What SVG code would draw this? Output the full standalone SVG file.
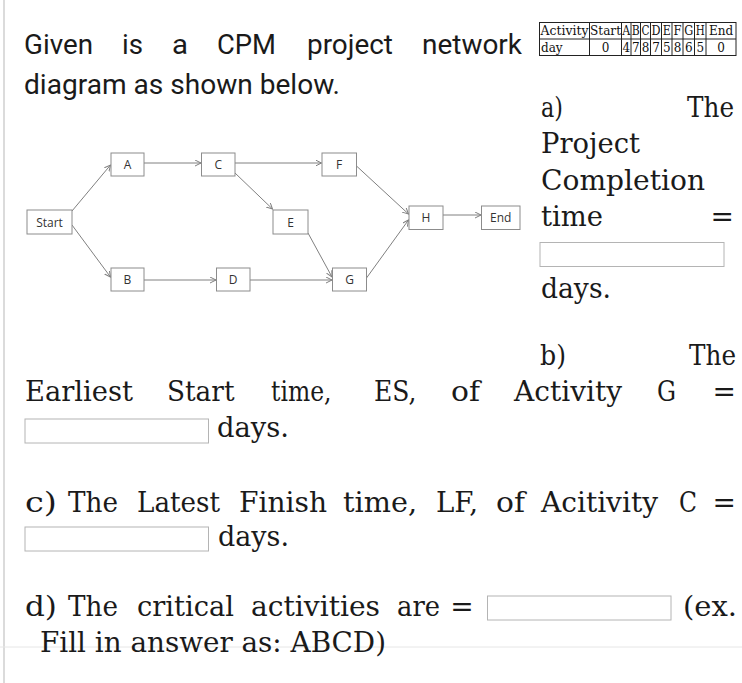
<svg xmlns="http://www.w3.org/2000/svg" width="742" height="683" viewBox="0 0 742 683">
<defs>
<style>
.sans{font-family:Roboto,"Liberation Sans",sans-serif;font-size:28px;fill:#1a1a1a}
.ser{font-family:"DejaVu Serif","Liberation Serif",serif;font-size:28px;fill:#1a1a1a}
.tb{font-family:"DejaVu Serif","Liberation Serif",serif;font-size:12px;fill:#111}
.cell{fill:none;stroke:#222;stroke-width:1}
.inp{fill:#fff;stroke:#b4b4b4;stroke-width:1}
.node rect{fill:#fff;stroke:#8c8c8c;stroke-width:1}
.node text{font-family:"Open Sans","DejaVu Sans",sans-serif;font-size:12px;fill:#333;text-anchor:middle}
.edge{stroke:#808080;stroke-width:1;fill:none;marker-end:url(#arr)}
</style>
<marker id="arr" markerWidth="8" markerHeight="8" refX="6" refY="3" orient="auto" markerUnits="userSpaceOnUse">
<path d="M0,0 L6,3 L0,6" fill="none" stroke="#808080" stroke-width="1"/>
</marker>
</defs>
<rect width="742" height="683" fill="#fff"/>
<line x1="4" y1="0" x2="4" y2="683" stroke="#cfcfcf" stroke-width="1.5"/>
<line x1="0" y1="647" x2="742" y2="647" stroke="#e6e6e6" stroke-width="1"/>

<g id="intro">
<text class="sans" x="24" y="54" textLength="69" lengthAdjust="spacingAndGlyphs">Given</text>
<text class="sans" x="122" y="54" textLength="21" lengthAdjust="spacingAndGlyphs">is</text>
<text class="sans" x="172" y="54" textLength="16" lengthAdjust="spacingAndGlyphs">a</text>
<text class="sans" x="217" y="54" textLength="59" lengthAdjust="spacingAndGlyphs">CPM</text>
<text class="sans" x="307" y="54" textLength="86" lengthAdjust="spacingAndGlyphs">project</text>
<text class="sans" x="422" y="54" textLength="100" lengthAdjust="spacingAndGlyphs">network</text>
<text class="sans" x="24" y="94" textLength="316" lengthAdjust="spacingAndGlyphs">diagram as shown below.</text>
</g>

<g id="table">
<rect class="cell" x="539.5" y="22.5" width="196.5" height="33"/>
<line class="cell" x1="539.5" y1="39" x2="736" y2="39"/>
<line class="cell" x1="589.5" y1="22.5" x2="589.5" y2="55.5"/>
<line class="cell" x1="621.5" y1="22.5" x2="621.5" y2="55.5"/>
<line class="cell" x1="631" y1="22.5" x2="631" y2="55.5"/>
<line class="cell" x1="640.5" y1="22.5" x2="640.5" y2="55.5"/>
<line class="cell" x1="650.5" y1="22.5" x2="650.5" y2="55.5"/>
<line class="cell" x1="661.5" y1="22.5" x2="661.5" y2="55.5"/>
<line class="cell" x1="672" y1="22.5" x2="672" y2="55.5"/>
<line class="cell" x1="683" y1="22.5" x2="683" y2="55.5"/>
<line class="cell" x1="694.5" y1="22.5" x2="694.5" y2="55.5"/>
<line class="cell" x1="706" y1="22.5" x2="706" y2="55.5"/>
<g class="tb" text-anchor="middle">
<text x="564.5" y="35" textLength="48" lengthAdjust="spacingAndGlyphs">Activity</text>
<text x="605.5" y="35" textLength="31" lengthAdjust="spacingAndGlyphs">Start</text>
<text x="626.2" y="35" textLength="8" lengthAdjust="spacingAndGlyphs">A</text>
<text x="635.7" y="35" textLength="8" lengthAdjust="spacingAndGlyphs">B</text>
<text x="645.5" y="35" textLength="8" lengthAdjust="spacingAndGlyphs">C</text>
<text x="656" y="35" textLength="9" lengthAdjust="spacingAndGlyphs">D</text>
<text x="666.7" y="35" textLength="8" lengthAdjust="spacingAndGlyphs">E</text>
<text x="677.5" y="35" textLength="8" lengthAdjust="spacingAndGlyphs">F</text>
<text x="688.7" y="35" textLength="9" lengthAdjust="spacingAndGlyphs">G</text>
<text x="700.2" y="35" textLength="9" lengthAdjust="spacingAndGlyphs">H</text>
<text x="721" y="35">End</text>
<text x="605.5" y="52">0</text>
<text x="626.2" y="52">4</text>
<text x="635.7" y="52">7</text>
<text x="645.5" y="52">8</text>
<text x="656" y="52">7</text>
<text x="666.7" y="52">5</text>
<text x="677.5" y="52">8</text>
<text x="688.7" y="52">6</text>
<text x="700.2" y="52">5</text>
<text x="721" y="52">0</text>
</g>
<text class="tb" x="541" y="52">day</text>
</g>

<g id="connectors">
<line class="edge" x1="72" y1="211" x2="110.5" y2="165"/>
<line class="edge" x1="72" y1="225" x2="110.5" y2="277"/>
<line class="edge" x1="144" y1="163" x2="201" y2="163"/>
<line class="edge" x1="235" y1="163" x2="321.5" y2="163"/>
<line class="edge" x1="235" y1="173" x2="272.5" y2="209"/>
<line class="edge" x1="144" y1="280" x2="216" y2="280"/>
<line class="edge" x1="250" y1="280" x2="332" y2="280"/>
<line class="edge" x1="308" y1="233" x2="332" y2="277"/>
<line class="edge" x1="356.5" y1="166" x2="408.5" y2="214"/>
<line class="edge" x1="366.5" y1="278" x2="408.5" y2="220"/>
<line class="edge" x1="443" y1="215" x2="481" y2="215"/>
</g>

<g id="node-start" class="node"><rect x="27" y="210" width="45" height="24"/><text x="49.5" y="226.5">Start</text></g>
<g id="node-a" class="node"><rect x="111" y="153" width="33" height="23"/><text x="127.5" y="169">A</text></g>
<g id="node-c" class="node"><rect x="201.5" y="153" width="33.5" height="23"/><text x="218.2" y="169">C</text></g>
<g id="node-b" class="node"><rect x="111" y="268" width="33" height="23"/><text x="127.5" y="284">B</text></g>
<g id="node-d" class="node"><rect x="216.5" y="268" width="33.5" height="23"/><text x="233.2" y="284">D</text></g>
<g id="node-e" class="node"><rect x="273" y="210" width="35" height="24"/><text x="290.5" y="226.5">E</text></g>
<g id="node-f" class="node"><rect x="322" y="153" width="34.5" height="23"/><text x="339.2" y="169">F</text></g>
<g id="node-g" class="node"><rect x="332.5" y="268" width="34" height="23"/><text x="349.5" y="284">G</text></g>
<g id="node-h" class="node"><rect x="409" y="206" width="34" height="23.5"/><text x="426" y="222">H</text></g>
<g id="node-end" class="node"><rect x="481.5" y="206" width="38.5" height="23.5"/><text x="500.7" y="222">End</text></g>

<g id="question-a">
<text class="ser" x="541" y="117" textLength="22" lengthAdjust="spacingAndGlyphs">a)</text>
<text class="ser" x="687" y="117" textLength="47" lengthAdjust="spacingAndGlyphs">The</text>
<text class="ser" x="541" y="153" textLength="99" lengthAdjust="spacingAndGlyphs">Project</text>
<text class="ser" x="541" y="190" textLength="164" lengthAdjust="spacingAndGlyphs">Completion</text>
<text class="ser" x="541" y="226" textLength="62" lengthAdjust="spacingAndGlyphs">time</text>
<text class="ser" x="734" y="226" text-anchor="end" font-size="25">=</text>
<rect class="inp" x="540" y="242.5" width="184" height="24"/>
<text class="ser" x="541" y="298" textLength="70" lengthAdjust="spacingAndGlyphs">days.</text>
</g>

<g id="question-b">
<text class="ser" x="540" y="365" textLength="26" lengthAdjust="spacingAndGlyphs">b)</text>
<text class="ser" x="689" y="365" textLength="47" lengthAdjust="spacingAndGlyphs">The</text>
<text class="ser" x="25" y="401" textLength="108" lengthAdjust="spacingAndGlyphs">Earliest</text>
<text class="ser" x="167" y="401" textLength="67.5" lengthAdjust="spacingAndGlyphs">Start</text>
<text class="ser" x="271" y="401" textLength="60.5" lengthAdjust="spacingAndGlyphs">time,</text>
<text class="ser" x="374" y="401" textLength="42.5" lengthAdjust="spacingAndGlyphs">ES,</text>
<text class="ser" x="451" y="401" textLength="29" lengthAdjust="spacingAndGlyphs">of</text>
<text class="ser" x="514" y="401" textLength="108" lengthAdjust="spacingAndGlyphs">Activity</text>
<text class="ser" x="657" y="401" textLength="19" lengthAdjust="spacingAndGlyphs">G</text>
<text class="ser" x="736" y="401" text-anchor="end" font-size="24">=</text>
<rect class="inp" x="25" y="419" width="183.5" height="24"/>
<text class="ser" x="217" y="437" textLength="72" lengthAdjust="spacingAndGlyphs">days.</text>
</g>

<g id="question-c">
<text class="ser" x="25" y="512" textLength="32" lengthAdjust="spacingAndGlyphs">c)</text>
<text class="ser" x="68" y="512" textLength="50" lengthAdjust="spacingAndGlyphs">The</text>
<text class="ser" x="137" y="512" textLength="83" lengthAdjust="spacingAndGlyphs">Latest</text>
<text class="ser" x="239" y="512" textLength="88" lengthAdjust="spacingAndGlyphs">Finish</text>
<text class="ser" x="343" y="512" textLength="74" lengthAdjust="spacingAndGlyphs">time,</text>
<text class="ser" x="436" y="512" textLength="42" lengthAdjust="spacingAndGlyphs">LF,</text>
<text class="ser" x="496" y="512" textLength="29" lengthAdjust="spacingAndGlyphs">of</text>
<text class="ser" x="541" y="512" textLength="117" lengthAdjust="spacingAndGlyphs">Acitivity</text>
<text class="ser" x="679" y="512" textLength="18" lengthAdjust="spacingAndGlyphs">C</text>
<text class="ser" x="736" y="512" text-anchor="end" font-size="24">=</text>
<rect class="inp" x="25" y="527" width="183.5" height="24"/>
<text class="ser" x="218" y="546" textLength="71" lengthAdjust="spacingAndGlyphs">days.</text>
</g>

<g id="question-d">
<text class="ser" x="25" y="616" textLength="32" lengthAdjust="spacingAndGlyphs">d)</text>
<text class="ser" x="68" y="616" textLength="50" lengthAdjust="spacingAndGlyphs">The</text>
<text class="ser" x="137" y="616" textLength="97" lengthAdjust="spacingAndGlyphs">critical</text>
<text class="ser" x="251" y="616" textLength="129" lengthAdjust="spacingAndGlyphs">activities</text>
<text class="ser" x="397" y="616" textLength="43" lengthAdjust="spacingAndGlyphs">are</text>
<text class="ser" x="462" y="616" text-anchor="middle" font-size="24">=</text>
<rect class="inp" x="487.5" y="596" width="183.5" height="24"/>
<text class="ser" x="683" y="616" textLength="54" lengthAdjust="spacingAndGlyphs">(ex.</text>
<text class="ser" x="40" y="652" textLength="346" lengthAdjust="spacingAndGlyphs">Fill in answer as: ABCD)</text>
</g>
</svg>
